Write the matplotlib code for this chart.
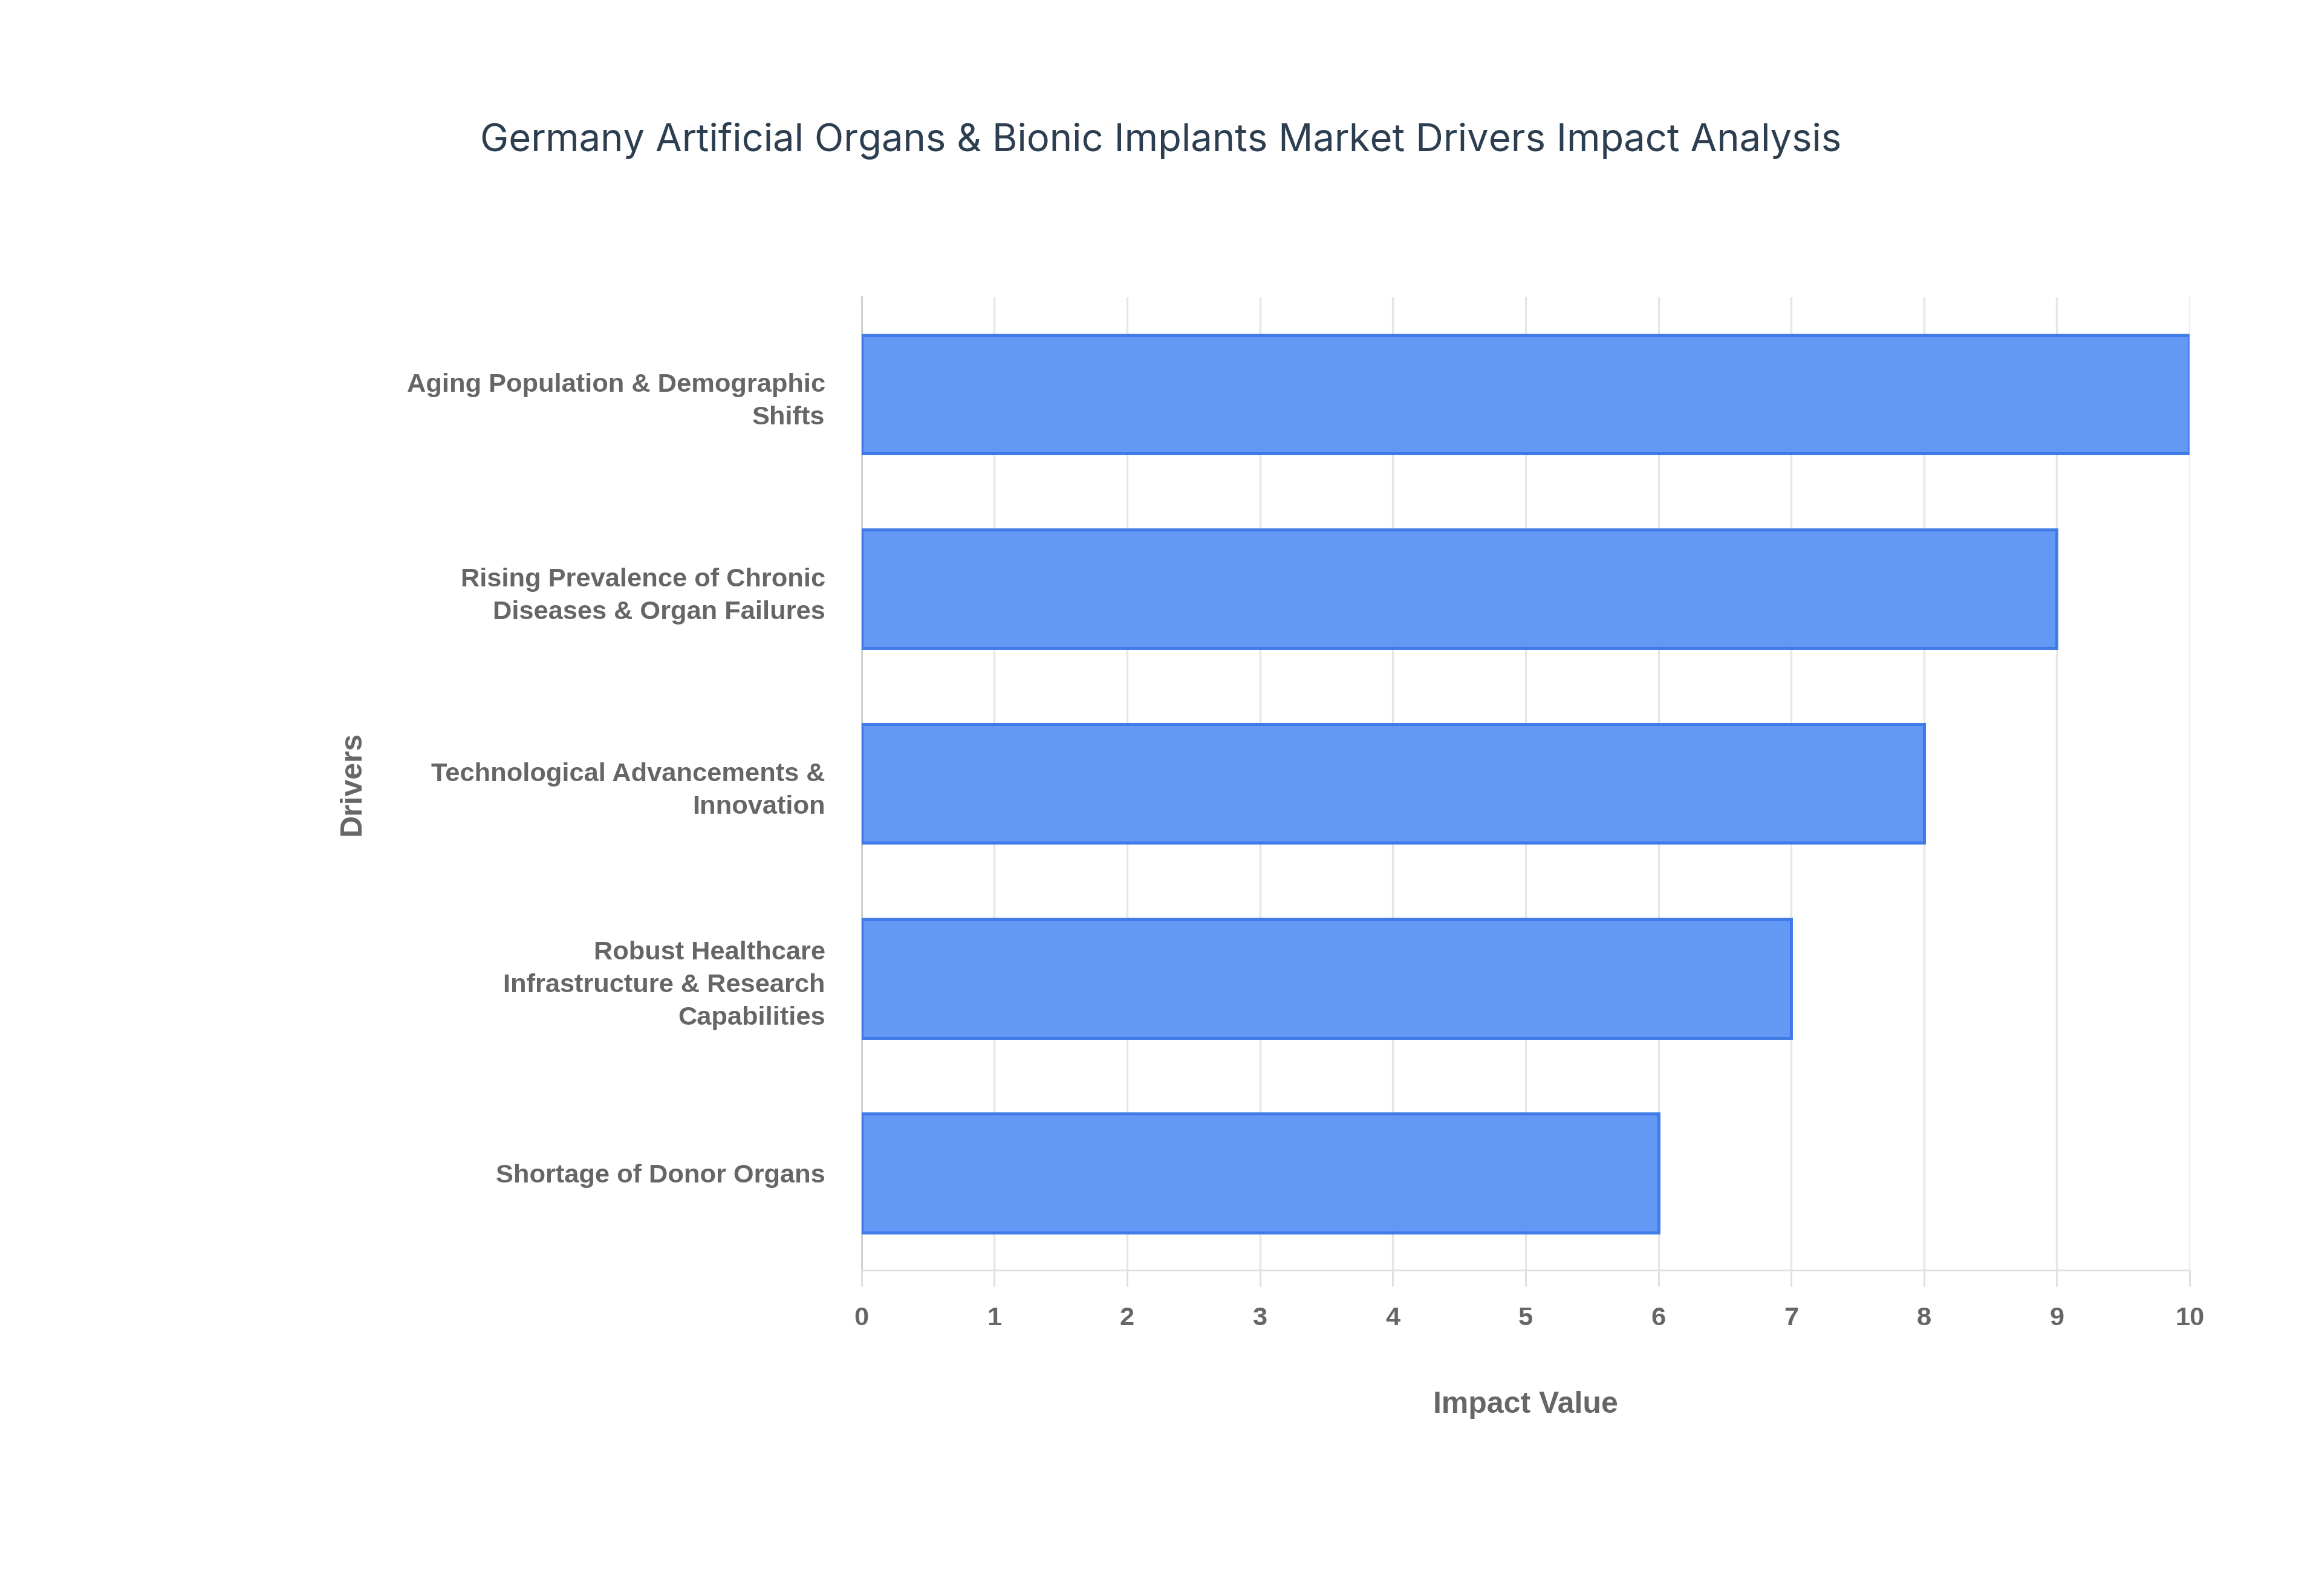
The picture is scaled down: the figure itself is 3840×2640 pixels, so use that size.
import matplotlib
matplotlib.use("Agg")
import matplotlib.pyplot as plt

drivers = ["Aging Population & Demographic\nShifts",
           "Rising Prevalence of Chronic\nDiseases & Organ Failures",
           "Technological Advancements &\nInnovation",
           "Robust Healthcare\nInfrastructure & Research\nCapabilities",
           "Shortage of Donor Organs"]
impact = [10, 9, 8, 7, 6]
xticks = list(range(0, 11))

fig = plt.figure(figsize=(16, 11), dpi=240)
ax = fig.add_axes([0.371, 0.204, 0.572, 0.61])
pos = list(range(len(drivers)))
ax.barh(pos, impact, height=0.61, color="#5b93f4", alpha=0.95,
        edgecolor="#3a78e6", linewidth=1.5, zorder=3)
ax.set_ylim(len(drivers) - 0.5, -0.5)
ax.set_xlim(0, 10)
ax.set_yticks(pos)
ax.set_yticklabels(drivers, fontsize=13, fontweight="bold", color="#666666",
                   fontfamily="Liberation Sans", linespacing=1.45)
ax.set_xticks(xticks)
ax.set_xticklabels([str(t) for t in xticks], fontsize=13, fontweight="bold",
                   color="#666666", fontfamily="Liberation Sans")
ax.tick_params(axis="y", length=0, pad=18)
ax.tick_params(axis="x", length=8, color="#dddddd", pad=10)
ax.grid(axis="x", color="#e6e6e6", linewidth=1, zorder=0)
for s in ["top", "right"]:
    ax.spines[s].set_visible(False)
ax.spines["left"].set_color("#cccccc")
ax.spines["bottom"].set_color("#e0e0e0")
ax.set_xlabel("Impact Value", fontsize=15, fontweight="bold", color="#666666",
              fontfamily="Liberation Sans", labelpad=30)
ax.set_ylabel("Drivers", fontsize=15, fontweight="bold", color="#666666",
              fontfamily="Liberation Sans", labelpad=20)
fig.text(0.5, 0.912, "Germany Artificial Organs & Bionic Implants Market Drivers Impact Analysis",
         ha="center", va="center", fontsize=19, color="#2c3e50", fontfamily="Inter")
fig.savefig("out.png", dpi=240, facecolor="white")
